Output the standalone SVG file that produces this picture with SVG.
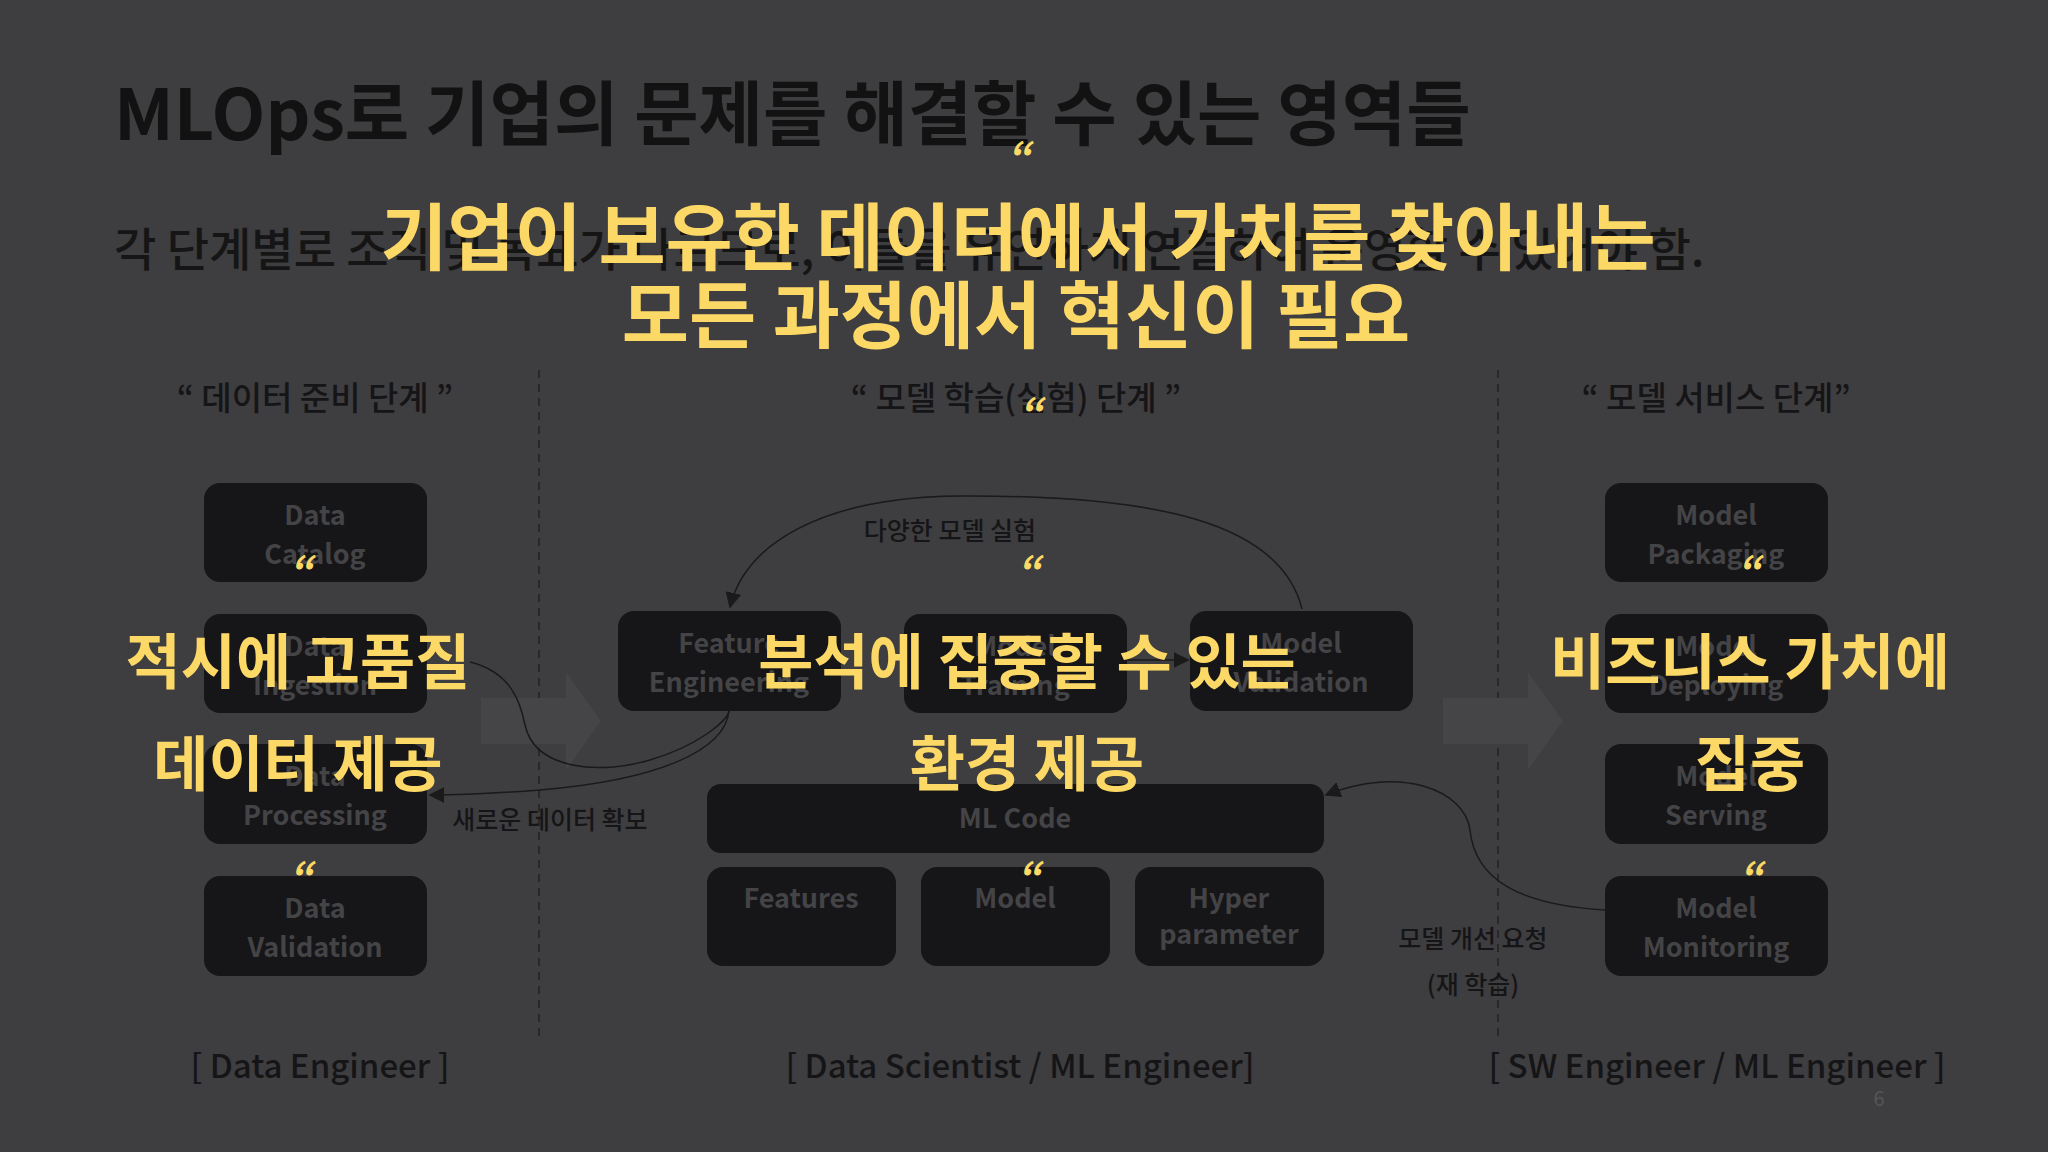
<svg xmlns="http://www.w3.org/2000/svg" width="2048" height="1152" viewBox="0 0 2048 1152">
<defs>
<style>
text{font-family:"Noto Sans CJK KR","Noto Sans",sans-serif}
.dk{fill:#161618}
.nt{fill:#444447;font-size:27px;font-weight:700;text-anchor:middle}
.hd{fill:#151517;font-size:33px;font-weight:500;text-anchor:middle}
.yl{fill:#fcd867;font-weight:700;text-anchor:middle}
.q{fill:#fcd867;font-size:40px;font-weight:700;font-style:italic;text-anchor:middle}
.ln{fill:none;stroke:#1a1a1a;stroke-width:1.5}
.lb{fill:#151517;font-size:25px;font-weight:500;text-anchor:middle}
</style>
<marker id="ah2" viewBox="0 0 10 10" refX="9" refY="5" markerWidth="16" markerHeight="16" markerUnits="userSpaceOnUse" orient="auto"><path d="M0,0L10,5L0,10z" fill="#1a1a1a"/></marker>
</defs>
<rect width="2048" height="1152" fill="#3e3d3f"/>
<text x="114" y="140" font-size="70" font-weight="700" fill="#121212">MLOps로 기업의 문제를 해결할 수 있는 영역들</text>
<text x="114" y="266" font-size="46" font-weight="500" fill="#151515">각 단계별로 조직 및 목표가 다르므로, 이들을 유연하게 연결하여 운영할 수 있어야 함.</text>
<g stroke="#222" stroke-width="1.5" stroke-dasharray="8,6"><line x1="539" y1="370" x2="539" y2="1038"/><line x1="1498" y1="370" x2="1498" y2="1038"/></g>
<text class="hd" x="315" y="410">“ 데이터 준비 단계 ”</text>
<text class="hd" x="1016" y="410">“ 모델 학습(실험) 단계 ”</text>
<text class="hd" x="1716" y="410">“ 모델 서비스 단계”</text>
<g fill="#454446"><path d="M481,698H566V672L601,721L566,770V744H481z"/><path d="M1443,698H1528V672L1563,721L1528,770V744H1443z"/></g>
<g id="data-catalog"><rect class="dk" x="204" y="483" width="223" height="99" rx="16"/><text class="nt" x="315" y="525">Data</text><text class="nt" x="315" y="564">Catalog</text></g>
<g id="data-ingestion"><rect class="dk" x="204" y="614" width="223" height="99" rx="16"/><text class="nt" x="315" y="656">Data</text><text class="nt" x="315" y="695">Ingestion</text></g>
<g id="data-processing"><rect class="dk" x="204" y="744" width="223" height="100" rx="16"/><text class="nt" x="315" y="786">Data</text><text class="nt" x="315" y="825">Processing</text></g>
<g id="data-validation"><rect class="dk" x="204" y="876" width="223" height="100" rx="16"/><text class="nt" x="315" y="918">Data</text><text class="nt" x="315" y="957">Validation</text></g>
<g id="feature-engineering"><rect class="dk" x="618" y="611" width="223" height="100" rx="16"/><text class="nt" x="729" y="653">Feature</text><text class="nt" x="729" y="692">Engineering</text></g>
<g id="model-training"><rect class="dk" x="904" y="614" width="223" height="99" rx="16"/><text class="nt" x="1015" y="656">Model</text><text class="nt" x="1015" y="695">Training</text></g>
<g id="model-validation"><rect class="dk" x="1190" y="611" width="223" height="100" rx="16"/><text class="nt" x="1301" y="653">Model</text><text class="nt" x="1301" y="692">Validation</text></g>
<g id="ml-code"><rect class="dk" x="707" y="784" width="617" height="69" rx="14"/><text class="nt" x="1015" y="828">ML Code</text></g>
<g id="features"><rect class="dk" x="707" y="867" width="189" height="99" rx="16"/><text class="nt" x="801" y="908">Features</text></g>
<g id="model"><rect class="dk" x="921" y="867" width="189" height="99" rx="16"/><text class="nt" x="1015" y="908">Model</text></g>
<g id="hyper-parameter"><rect class="dk" x="1135" y="867" width="189" height="99" rx="16"/><text class="nt" x="1229" y="908">Hyper</text><text class="nt" x="1229" y="944">parameter</text></g>
<g id="model-packaging"><rect class="dk" x="1605" y="483" width="223" height="99" rx="16"/><text class="nt" x="1716" y="525">Model</text><text class="nt" x="1716" y="564">Packaging</text></g>
<g id="model-deploying"><rect class="dk" x="1605" y="614" width="223" height="99" rx="16"/><text class="nt" x="1716" y="656">Model</text><text class="nt" x="1716" y="695">Deploying</text></g>
<g id="model-serving"><rect class="dk" x="1605" y="744" width="223" height="100" rx="16"/><text class="nt" x="1716" y="786">Model</text><text class="nt" x="1716" y="825">Serving</text></g>
<g id="model-monitoring"><rect class="dk" x="1605" y="876" width="223" height="100" rx="16"/><text class="nt" x="1716" y="918">Model</text><text class="nt" x="1716" y="957">Monitoring</text></g>
<g id="connectors">
<line class="ln" x1="1127" y1="660" x2="1188" y2="660" marker-end="url(#ah2)"/>
<path class="ln" d="M1302,609C1280,520 1150,495 960,496C820,497 745,545 730,607" marker-end="url(#ah2)"/>
<path class="ln" d="M470,662C510,672 520,700 525,725C535,770 600,775 650,760C700,745 728,720 729,711"/>
<path class="ln" d="M729,711C725,750 660,780 540,790C500,793 460,795 430,795" marker-end="url(#ah2)"/>
<path class="ln" d="M1605,910C1520,905 1475,880 1470,830C1465,790 1400,765 1326,795" marker-end="url(#ah2)"/>
<text class="lb" x="950" y="540">다양한 모델 실험</text>
<text class="lb" x="550" y="829">새로운 데이터 확보</text>
<text class="lb" x="1473" y="948">모델 개선 요청</text>
<text class="lb" x="1473" y="994">(재 학습)</text>
</g>
<text class="hd" x="320" y="1078">[ Data Engineer ]</text>
<text class="hd" x="1020" y="1078">[ Data Scientist / ML Engineer]</text>
<text class="hd" x="1717" y="1078">[ SW Engineer / ML Engineer ]</text>
<text x="1879" y="1106" font-size="20" fill="#555" text-anchor="middle">6</text>
<text class="yl" x="1018" y="264" font-size="73">기업이 보유한 데이터에서 가치를 찾아내는</text>
<text class="yl" x="1016" y="342" font-size="73">모든 과정에서 혁신이 필요</text>
<text class="yl" x="298" y="684" font-size="60">적시에 고품질</text>
<text class="yl" x="298" y="786" font-size="60">데이터 제공</text>
<text class="yl" x="1027" y="684" font-size="60">분석에 집중할 수 있는</text>
<text class="yl" x="1027" y="786" font-size="60">환경 제공</text>
<text class="yl" x="1750" y="684" font-size="60">비즈니스 가치에</text>
<text class="yl" x="1750" y="786" font-size="60">집중</text>
<g class="q"><text x="1018" y="172">“</text><text x="300" y="586">“</text><text x="1028" y="586">“</text><text x="1748" y="586">“</text><text x="1030" y="428">“</text><text x="300" y="892">“</text><text x="1028" y="892">“</text><text x="1750" y="892">“</text></g>
</svg>
